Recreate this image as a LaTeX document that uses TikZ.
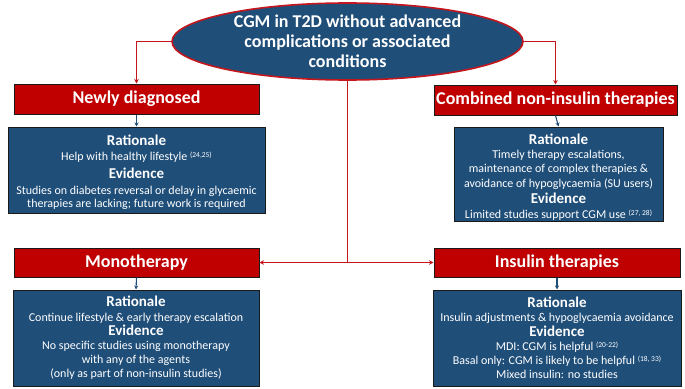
\documentclass[tikz,border=0pt]{standalone}
\usepackage{fontspec}
\setmainfont{Carlito}
\usetikzlibrary{shapes.geometric,arrows.meta}
\definecolor{cred}{HTML}{C00000}
\definecolor{cblue}{HTML}{1F4E79}
\definecolor{clink}{HTML}{C4161C}
\definecolor{cdark}{HTML}{1A1A1A}
\newcommand\supref[1]{\raisebox{0.55ex}{\fontsize{7.5}{8}\selectfont #1}}
\newcommand\hd[1]{{\fontsize{15}{17}\selectfont\bfseries #1}}
\tikzset{
  redbox/.style={draw=cdark, line width=1pt, fill=cred, text=white, inner sep=0pt,
    font=\fontsize{18}{20}\selectfont\bfseries},
  bluebox/.style={draw=cdark, line width=1pt, fill=cblue, text=white, inner sep=0pt,
    align=center, font=\fontsize{12}{14.2}\selectfont},
  redlink/.style={draw=clink, line width=1.3pt, -{Stealth[length=4.5pt,width=4.5pt]}},
  redplain/.style={draw=clink, line width=1.3pt},
  bluelink/.style={draw=cblue, line width=1.1pt, -{Stealth[length=4pt,width=4pt]}},
}
\begin{document}
\begin{tikzpicture}[x=1pt,y=-1pt]
\useasboundingbox (0,0) rectangle (685,388);
% ellipse
\node[ellipse, draw=clink, line width=1.6pt, fill=cblue, minimum width=351pt, minimum height=77pt, inner sep=0pt] (ell) at (347.5,41.5) {};
\node[text=white, align=center, font=\fontsize{18}{20}\selectfont\bfseries] (title) at (ell.center) {CGM in T2D without advanced\\complications or associated\\conditions};
% red boxes
\node[redbox, minimum width=245pt, minimum height=30pt] (nd) at (136.5,99) {Newly diagnosed};
\node[redbox, minimum width=243pt, minimum height=30pt] (comb) at (555.5,100) {Combined non-insulin therapies};
\node[redbox, minimum width=245pt, minimum height=29pt] (mono) at (136.5,262.5) {Monotherapy};
\node[redbox, minimum width=246pt, minimum height=29pt] (ins) at (557,262.5) {Insulin therapies};
% blue boxes
\node[bluebox, minimum width=257pt, minimum height=86pt] (b1) at (136.5,170) {\rule{0pt}{15pt}\hd{Rationale}\\[1pt]Help with healthy lifestyle \supref{(24,25)}\\[4pt]\hd{Evidence}\\[1pt]Studies on diabetes reversal or delay in glycaemic\\[-1pt]therapies are lacking; future work is required};
\node[bluebox, minimum width=209pt, minimum height=94pt] (b2) at (558.5,174) {\rule{0pt}{17pt}\hd{Rationale}\\Timely therapy escalations,\\maintenance of complex therapies \&\\avoidance of hypoglycaemia (SU users)\\[2pt]\hd{Evidence}\\[1pt]Limited studies support CGM use \supref{(27, 28)}};
\node[bluebox, minimum width=246pt, minimum height=96pt] (b3) at (136,338) {\hd{Rationale}\\Continue lifestyle \& early therapy escalation\\\hd{Evidence}\\No specific studies using monotherapy\\with any of the agents\\(only as part of non-insulin studies)};
\node[bluebox, minimum width=248pt, minimum height=96pt] (b4) at (557,338) {\hd{Rationale}\\Insulin adjustments \& hypoglycaemia avoidance\\\hd{Evidence}\\MDI: CGM is helpful \supref{(20-22)}\\Basal only: CGM is likely to be helpful \supref{(18, 33)}\\Mixed insulin: no studies};
% connectors
\coordinate (j) at (347.5,262.5);
\draw[redlink] (ell.west) -| (nd.north);
\draw[redlink] (ell.east) -| (comb.north);
\draw[redplain] (ell.south) -- (j);
\draw[redlink] (j) -- (mono.east);
\draw[redlink] (j) -- (ins.west);
\draw[bluelink] (nd.south) -- (b1.north);
\draw[bluelink] (comb.south) -- (b2.north);
\draw[bluelink] (mono.south) -- (b3.north);
\draw[bluelink] (ins.south) -- (b4.north);
\end{tikzpicture}
\end{document}
